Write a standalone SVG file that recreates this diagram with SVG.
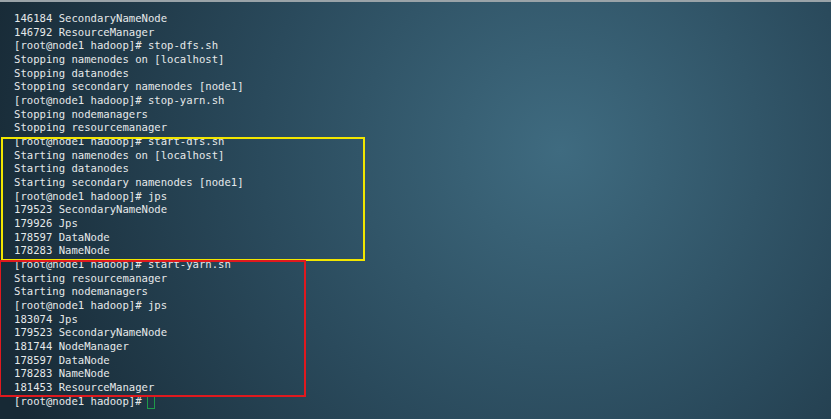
<svg xmlns="http://www.w3.org/2000/svg" width="831" height="419" viewBox="0 0 831 419">
<defs>
<radialGradient id="bg" cx="560" cy="150" r="600" gradientUnits="userSpaceOnUse">
<stop offset="0" stop-color="#3f6b80"/>
<stop offset="0.5" stop-color="#2a4a5c"/>
<stop offset="1" stop-color="#172935"/>
</radialGradient>
<style>
text{font-family:"DejaVu Sans Mono","Liberation Mono",monospace;font-size:10.6px;fill:#e6e9ea;white-space:pre}
</style>
</defs>
<rect width="831" height="419" fill="url(#bg)"/>
<rect width="831" height="2" fill="#9aa3a8"/>
<g id="lines">
<text x="14" y="22">146184 SecondaryNameNode</text>
<text x="14" y="36">146792 ResourceManager</text>
<text x="14" y="49">[root@node1 hadoop]# stop-dfs.sh</text>
<text x="14" y="63">Stopping namenodes on [localhost]</text>
<text x="14" y="77">Stopping datanodes</text>
<text x="14" y="90">Stopping secondary namenodes [node1]</text>
<text x="14" y="104">[root@node1 hadoop]# stop-yarn.sh</text>
<text x="14" y="118">Stopping nodemanagers</text>
<text x="14" y="131">Stopping resourcemanager</text>
<text x="14" y="145">[root@node1 hadoop]# start-dfs.sh</text>
<text x="14" y="159">Starting namenodes on [localhost]</text>
<text x="14" y="172">Starting datanodes</text>
<text x="14" y="186">Starting secondary namenodes [node1]</text>
<text x="14" y="200">[root@node1 hadoop]# jps</text>
<text x="14" y="213">179523 SecondaryNameNode</text>
<text x="14" y="227">179926 Jps</text>
<text x="14" y="241">178597 DataNode</text>
<text x="14" y="254">178283 NameNode</text>
<text x="14" y="268">[root@node1 hadoop]# start-yarn.sh</text>
<text x="14" y="282">Starting resourcemanager</text>
<text x="14" y="295">Starting nodemanagers</text>
<text x="14" y="309">[root@node1 hadoop]# jps</text>
<text x="14" y="323">183074 Jps</text>
<text x="14" y="336">179523 SecondaryNameNode</text>
<text x="14" y="350">181744 NodeManager</text>
<text x="14" y="364">178597 DataNode</text>
<text x="14" y="377">178283 NameNode</text>
<text x="14" y="391">181453 ResourceManager</text>
<text x="14" y="405">[root@node1 hadoop]#</text>
</g>
<rect id="cursor" x="147.5" y="396.5" width="7" height="12" fill="none" stroke="#1f9a4a" stroke-width="1"/>
<g id="boxes" fill="none" stroke-width="2">
<rect x="2" y="138" width="362" height="122" stroke="#f2e600"/>
<rect x="0" y="261" width="305" height="135" stroke="#e0191e"/>
</g>
</svg>
